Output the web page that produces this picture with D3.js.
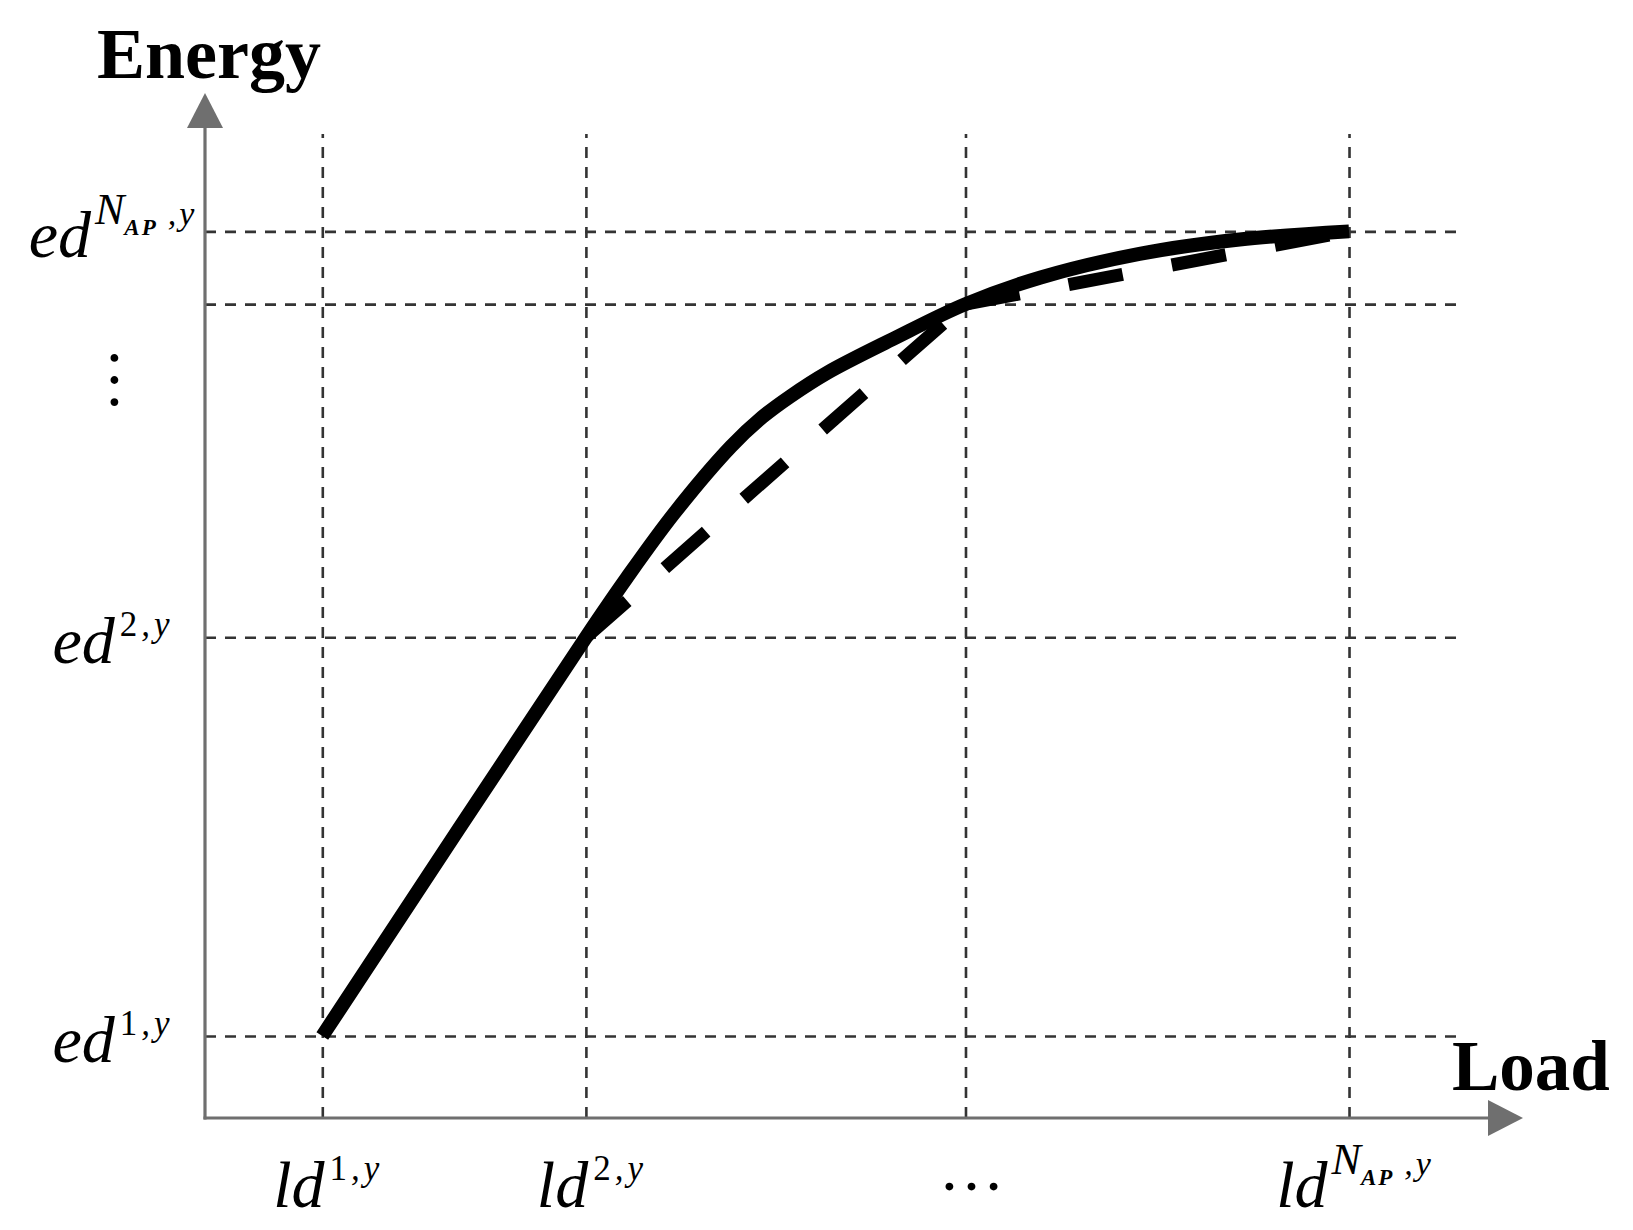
<!DOCTYPE html>
<html>
<head>
<meta charset="utf-8">
<script src="https://cdn.jsdelivr.net/npm/d3@7"></script>
<style>
  html, body { margin: 0; padding: 0; background: #fff; }
  svg { display: block; }
</style>
</head>
<body>
<svg id="chart" width="1633" height="1230"></svg>
<script>
// ---------------- data ----------------
const loadTicks = [8.9, 28.9, 57.7, 86.8];
const loadTickLabels = [['ld', '1,y'], ['ld', '2,y'], ['…'], ['ld', 'N', 'AP', ',y']];
const energyTicks = [8.0, 46.9, 79.4, 86.5];
const energyTickLabels = [['ed', '1,y'], ['ed', '2,y'], [], ['ed', 'N', 'AP', ',y']];
const energyEllipsisValue = 72;

// solid curve (actual energy vs load)
const curveLoad   = [8.9, 28.9, 32.0, 35.6, 39.9, 42.3, 44.4, 47.2, 52.2, 57.7, 63.4, 70.9, 78.5, 86.8];
const curveEnergy = [8.0, 46.9, 52.7, 59.0, 65.5, 68.4, 70.4, 72.7, 76.0, 79.4, 82.0, 84.3, 85.7, 86.5];

// dashed piecewise-linear approximation
const approxLoad   = [28.9, 57.7, 86.8];
const approxEnergy = [46.9, 79.4, 86.5];

const xTitle = 'Load';
const yTitle = 'Energy';

// ---------------- layout ----------------
const svg = d3.select('#chart');
const x = d3.scaleLinear().domain([0, 100]).range([205, 1523]);
const y = d3.scaleLinear().domain([0, 100]).range([1118, 93]);

const axisColor = '#6f6f6f';
const gridColor = '#333';
const serif = '"Liberation Serif", "Times New Roman", Times, serif';

// gridlines (through d3 axes)
const gridTop = 134, gridRight = 1462;
const gX = svg.append('g')
  .attr('transform', `translate(0,${y(0)})`)
  .call(d3.axisBottom(x).tickValues(loadTicks).tickSize(-(y(0) - gridTop)).tickFormat(''));
const gY = svg.append('g')
  .attr('transform', `translate(${x(0)},0)`)
  .call(d3.axisLeft(y).tickValues(energyTicks).tickSize(-(gridRight - x(0))).tickFormat(''));
[gX, gY].forEach(g => {
  g.select('.domain').remove();
  g.selectAll('.tick line')
    .attr('stroke', gridColor)
    .attr('stroke-width', 2.6)
    .attr('stroke-dasharray', '11,9');
});

// main axes with arrows
const arrowLen = 35, arrowHalf = 18;
svg.append('line')
  .attr('x1', x(0)).attr('y1', y(0) + 1.5)
  .attr('x2', x(0)).attr('y2', y(100) + arrowLen)
  .attr('stroke', axisColor).attr('stroke-width', 3.2);
svg.append('path')
  .attr('d', `M${x(0)},${y(100)} L${x(0) - arrowHalf},${y(100) + arrowLen} L${x(0) + arrowHalf},${y(100) + arrowLen} Z`)
  .attr('fill', axisColor);
svg.append('line')
  .attr('x1', x(0) - 1.5).attr('y1', y(0))
  .attr('x2', x(100) - arrowLen).attr('y2', y(0))
  .attr('stroke', axisColor).attr('stroke-width', 3.2);
svg.append('path')
  .attr('d', `M${x(100)},${y(0)} L${x(100) - arrowLen},${y(0) - arrowHalf} L${x(100) - arrowLen},${y(0) + arrowHalf} Z`)
  .attr('fill', axisColor);

// dashed approximation: each segment restarts its dash pattern
for (let i = 0; i < approxLoad.length - 1; i++) {
  const seg = [[approxLoad[i], approxEnergy[i]], [approxLoad[i + 1], approxEnergy[i + 1]]];
  svg.append('path')
    .attr('d', d3.line().x(d => x(d[0])).y(d => y(d[1]))(seg))
    .attr('fill', 'none')
    .attr('stroke', '#000')
    .attr('stroke-width', 13)
    .attr('stroke-dasharray', '55,50');
}

// solid curve
const curvePts = curveLoad.map((v, i) => [v, curveEnergy[i]]);
svg.append('path')
  .attr('d', d3.line().x(d => x(d[0])).y(d => y(d[1])).curve(d3.curveCatmullRom.alpha(0.5))(curvePts))
  .attr('fill', 'none')
  .attr('stroke', '#000')
  .attr('stroke-width', 14)
  .attr('stroke-linejoin', 'round');

// math-style label renderer
function mathLabel(parent, parts, px, py, anchor) {
  const t = parent.append('text')
    .attr('x', px).attr('y', py)
    .attr('text-anchor', anchor)
    .attr('font-family', serif)
    .attr('fill', '#000');
  if (parts.length === 1) {
    t.append('tspan').attr('font-size', 66).text(parts[0]);
    return t;
  }
  t.append('tspan').attr('font-size', 66).attr('font-style', 'italic').text(parts[0]);
  if (parts.length === 2) {
    const [digit, rest] = parts[1].split(',');
    t.append('tspan').attr('font-size', 35).attr('dx', 5).attr('dy', -27)
      .attr('letter-spacing', 4).text(digit);
    t.append('tspan').attr('font-size', 35).attr('font-style', 'italic')
      .attr('letter-spacing', 4).text(',' + rest);
  } else if (parts.length === 4) {
    t.append('tspan').attr('font-size', 44).attr('font-style', 'italic').attr('dx', 4).attr('dy', -33).text(parts[1]);
    t.append('tspan').attr('font-size', 23).attr('font-style', 'italic').attr('font-weight', 'bold')
      .attr('letter-spacing', 2).attr('dy', 11).text(parts[2]);
    t.append('tspan').attr('font-size', 34).attr('font-style', 'italic').attr('letter-spacing', 3)
      .attr('dx', 10).attr('dy', -10).text(parts[3]);
  }
  return t;
}

// x tick labels
loadTicks.forEach((v, i) => {
  const parts = loadTickLabels[i];
  const isDots = parts.length === 1;
  mathLabel(svg, parts, x(v) + 6, isDots ? 1190 : 1207, 'middle');
});

// y tick labels
energyTicks.forEach((v, i) => {
  const parts = energyTickLabels[i];
  if (!parts.length) return;
  mathLabel(svg, parts, 113, y(v) + 26, 'middle');
});

// vertical ellipsis between y labels
svg.append('text')
  .attr('transform', `translate(111,${y(energyEllipsisValue)}) rotate(90)`)
  .attr('text-anchor', 'middle')
  .attr('font-family', serif)
  .attr('font-size', 66)
  .text('…');

// axis titles
svg.append('text')
  .attr('x', 97).attr('y', 78)
  .attr('font-family', serif).attr('font-weight', 'bold').attr('font-size', 72)
  .text(yTitle);
svg.append('text')
  .attr('x', 1452).attr('y', 1090)
  .attr('font-family', serif).attr('font-weight', 'bold').attr('font-size', 71)
  .text(xTitle);
</script>
</body>
</html>
